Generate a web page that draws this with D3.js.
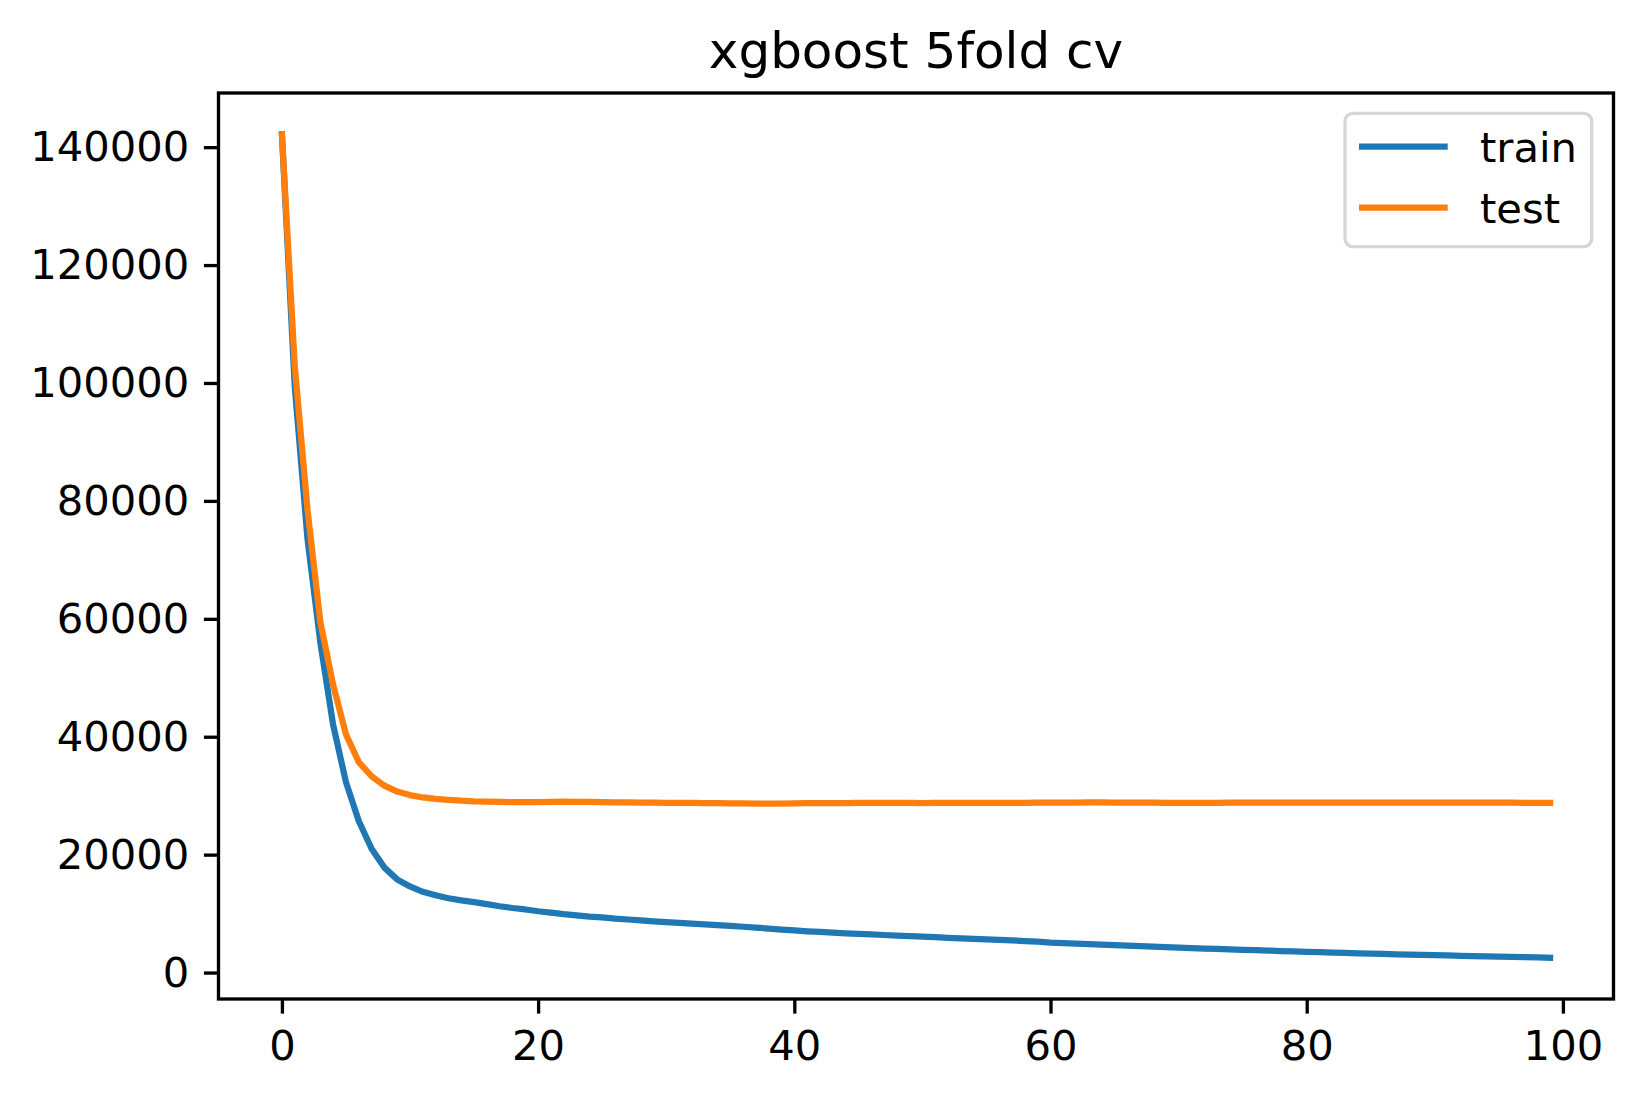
<!DOCTYPE html>
<html>
<head>
<meta charset="utf-8">
<script src="https://cdn.jsdelivr.net/npm/d3@7"></script>
<style>
  html, body { margin: 0; padding: 0; background: #ffffff; }
  svg { display: block; }
  text { font-family: "DejaVu Sans", sans-serif; fill: #000; }
</style>
</head>
<body>
<svg id="chart" width="1643" height="1098"></svg>
<script>
const title = "xgboost 5fold cv";
const seriesNames = ["train", "test"];
const seriesColors = ["#1f77b4", "#ff7f0e"];
const xTicks = [0, 20, 40, 60, 80, 100];
const yTicks = [0, 20000, 40000, 60000, 80000, 100000, 120000, 140000];

const trainValues = [
  142200, 99500, 73500, 56000, 42000, 32300, 25700, 21000, 17800, 15800,
  14600, 13700, 13100, 12600, 12250, 11950, 11600, 11250, 10950, 10700,
  10400, 10150, 9900, 9700, 9500, 9350, 9150, 9000, 8850, 8700,
  8550, 8430, 8310, 8190, 8060, 7920, 7770, 7620, 7460, 7300,
  7150, 7000, 6880, 6770, 6660, 6560, 6460, 6370, 6280, 6190,
  6100, 6000, 5900, 5800, 5720, 5640, 5550, 5450, 5350, 5250,
  5080, 4980, 4900, 4810, 4730, 4650, 4570, 4490, 4410, 4330,
  4240, 4160, 4080, 4000, 3930, 3860, 3790, 3720, 3650, 3580,
  3500, 3450, 3390, 3330, 3270, 3210, 3160, 3100, 3050, 3000,
  2950, 2900, 2850, 2800, 2750, 2700, 2650, 2600, 2560, 2500
];

const testValues = [
  142200, 103000, 78500, 59500, 48800, 40400, 35700, 33300, 31700, 30700,
  30100, 29700, 29450, 29300, 29150, 29050, 29000, 28950, 28900, 28900,
  28920, 28950, 28980, 28960, 28940, 28900, 28870, 28850, 28830, 28820,
  28800, 28780, 28770, 28750, 28730, 28700, 28680, 28650, 28640, 28660,
  28700, 28720, 28730, 28740, 28750, 28760, 28760, 28770, 28770, 28760,
  28750, 28760, 28770, 28780, 28790, 28790, 28780, 28790, 28800, 28810,
  28820, 28830, 28840, 28850, 28850, 28840, 28830, 28820, 28810, 28800,
  28790, 28790, 28800, 28800, 28810, 28810, 28820, 28820, 28810, 28810,
  28810, 28820, 28820, 28830, 28830, 28830, 28830, 28840, 28840, 28840,
  28840, 28830, 28830, 28820, 28820, 28810, 28810, 28800, 28800, 28800
];

const series = [trainValues, testValues];

// Layout (pixels)
const axLeft = 218.5, axRight = 1613.5, axTop = 93, axBottom = 999;
const fontPx = 41.7, titlePx = 50;
const tickLen = 14.6, tickW = 3.33, spineW = 3.33, lineW = 6.25;

const svg = d3.select("#chart");

// matplotlib-style 5% margins
const n = trainValues.length;
const xMin = 0, xMax = n - 1;
const xm = (xMax - xMin) * 0.05;
const allVals = trainValues.concat(testValues);
const yMinD = d3.min(allVals), yMaxD = d3.max(allVals);
const ym = (yMaxD - yMinD) * 0.05;

const x = d3.scaleLinear().domain([xMin - xm, xMax + xm]).range([axLeft, axRight]);
const y = d3.scaleLinear().domain([yMinD - ym, yMaxD + ym]).range([axBottom, axTop]);

// Lines (clipped to axes)
svg.append("clipPath").attr("id", "clip")
  .append("rect").attr("x", axLeft).attr("y", axTop)
  .attr("width", axRight - axLeft).attr("height", axBottom - axTop);

const line = d3.line().x((d, i) => x(i)).y(d => y(d));
const plot = svg.append("g").attr("clip-path", "url(#clip)");
series.forEach((vals, k) => {
  plot.append("path")
    .datum(vals)
    .attr("d", line)
    .attr("fill", "none")
    .attr("stroke", seriesColors[k])
    .attr("stroke-width", lineW)
    .attr("stroke-linejoin", "round")
    .attr("stroke-linecap", "square");
});

// Axes
const xAxis = d3.axisBottom(x).tickValues(xTicks).tickSize(tickLen).tickSizeOuter(0).tickFormat(d3.format("d"));
const yAxis = d3.axisLeft(y).tickValues(yTicks).tickSize(tickLen).tickSizeOuter(0).tickFormat(d3.format("d"));

const gx = svg.append("g").attr("transform", `translate(0,${axBottom})`).call(xAxis);
gx.select(".domain").remove();
gx.selectAll(".tick line").attr("stroke", "#000").attr("stroke-width", tickW);
gx.selectAll(".tick text")
  .attr("y", 60.5).attr("dy", null)
  .style("font-family", "'DejaVu Sans', sans-serif")
  .style("font-size", fontPx + "px").attr("fill", "#000");

const gy = svg.append("g").attr("transform", `translate(${axLeft},0)`).call(yAxis);
gy.select(".domain").remove();
gy.selectAll(".tick line").attr("stroke", "#000").attr("stroke-width", tickW);
gy.selectAll(".tick text")
  .attr("x", -(tickLen + 14.6)).attr("dy", "0.33em")
  .style("font-family", "'DejaVu Sans', sans-serif")
  .style("font-size", fontPx + "px").attr("fill", "#000");

// Spines
svg.append("rect")
  .attr("x", axLeft).attr("y", axTop)
  .attr("width", axRight - axLeft).attr("height", axBottom - axTop)
  .attr("fill", "none").attr("stroke", "#000").attr("stroke-width", spineW)
  .attr("stroke-linejoin", "miter");

// Title
svg.append("text")
  .attr("x", (axLeft + axRight) / 2).attr("y", 68.3)
  .attr("text-anchor", "middle")
  .style("font-size", titlePx + "px")
  .text(title);

// Legend
const lg = svg.append("g");
lg.append("rect")
  .attr("x", 1345).attr("y", 113.3).attr("width", 246.7).attr("height", 133.4)
  .attr("rx", 8).attr("ry", 8)
  .attr("fill", "#ffffff").attr("fill-opacity", 0.8)
  .attr("stroke", "#d6d6d6").attr("stroke-width", 3.3);
const legendRowY = [146.7, 207.7];
seriesNames.forEach((name, k) => {
  lg.append("line")
    .attr("x1", 1359).attr("x2", 1447.7)
    .attr("y1", legendRowY[k]).attr("y2", legendRowY[k])
    .attr("stroke", seriesColors[k]).attr("stroke-width", lineW)
    .attr("stroke-linecap", "butt");
  lg.append("text")
    .attr("x", 1480).attr("y", legendRowY[k] + 15.4)
    .style("font-size", fontPx + "px")
    .text(name);
});
</script>
</body>
</html>
